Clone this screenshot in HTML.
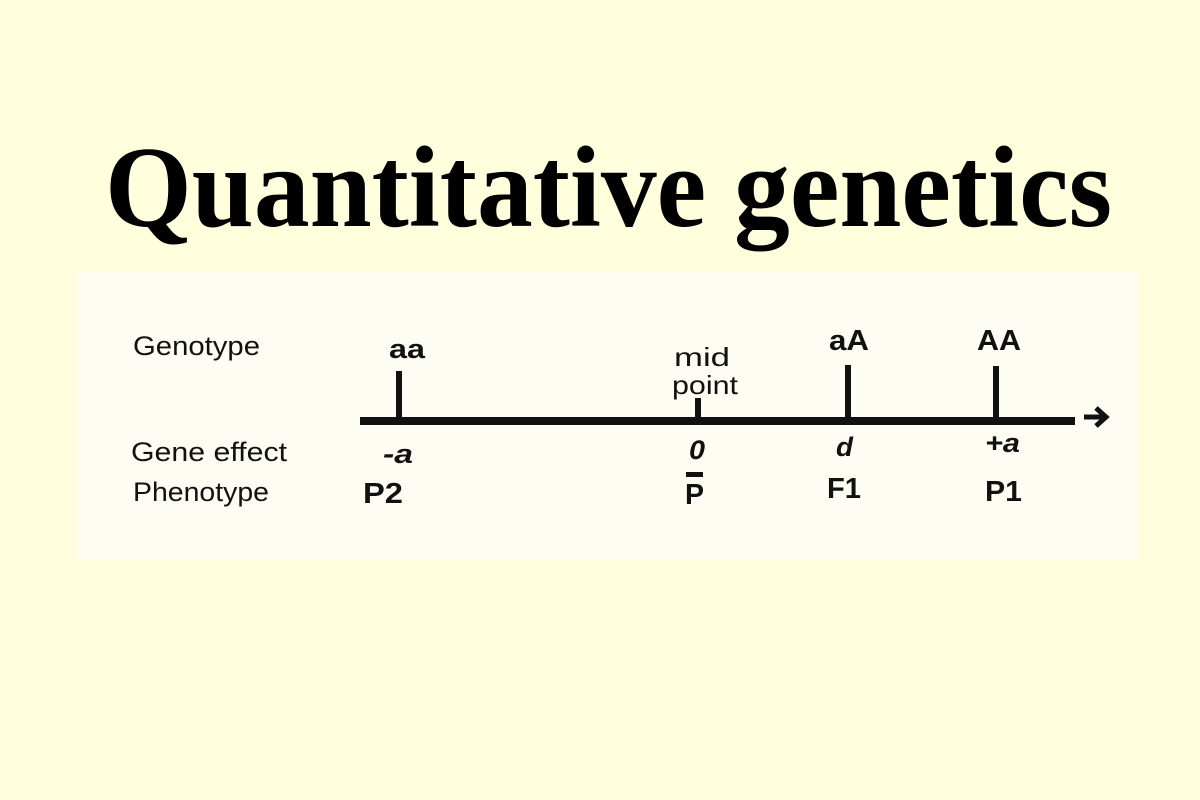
<!DOCTYPE html>
<html><head><meta charset="utf-8"><style>
html,body{margin:0;padding:0;background:#fffedd;}
svg{display:block;}
</style></head><body>
<svg width="1200" height="800" viewBox="0 0 1200 800" xmlns="http://www.w3.org/2000/svg">
<rect width="1200" height="800" fill="#fffedd"/>
<text x="105" y="226" font-family="Liberation Serif, serif" font-weight="bold" font-size="116" textLength="1007" lengthAdjust="spacingAndGlyphs" fill="#000">Quantitative genetics</text>
<rect x="78" y="272" width="1060" height="288" fill="#fdfdf3"/>
<g font-family="Liberation Sans, sans-serif" fill="#111">
<text x="133" y="355" font-size="27" textLength="127" lengthAdjust="spacingAndGlyphs">Genotype</text>
<text x="131" y="461" font-size="27" textLength="156" lengthAdjust="spacingAndGlyphs">Gene effect</text>
<text x="133" y="501" font-size="27" textLength="136" lengthAdjust="spacingAndGlyphs">Phenotype</text>
<text x="389" y="358" font-size="27" font-weight="bold" textLength="36" lengthAdjust="spacingAndGlyphs">aa</text>
<text x="674" y="366" font-size="26" textLength="56" lengthAdjust="spacingAndGlyphs">mid</text>
<text x="672" y="394" font-size="26" textLength="66" lengthAdjust="spacingAndGlyphs">point</text>
<text x="829" y="350" font-size="29" font-weight="bold" textLength="40" lengthAdjust="spacingAndGlyphs">aA</text>
<text x="977" y="350" font-size="29" font-weight="bold" textLength="44" lengthAdjust="spacingAndGlyphs">AA</text>
<text x="383" y="463" font-size="27" font-weight="bold" font-style="italic" textLength="30" lengthAdjust="spacingAndGlyphs">-a</text>
<text x="689" y="459" font-size="27" font-weight="bold" font-style="italic" textLength="16" lengthAdjust="spacingAndGlyphs">0</text>
<text x="836" y="456" font-size="27" font-weight="bold" font-style="italic" textLength="17" lengthAdjust="spacingAndGlyphs">d</text>
<text x="985" y="452" font-size="27" font-weight="bold" font-style="italic" textLength="35" lengthAdjust="spacingAndGlyphs">+a</text>
<text x="363" y="503" font-size="29" font-weight="bold" textLength="40" lengthAdjust="spacingAndGlyphs">P2</text>
<text x="685" y="504" font-size="29" font-weight="bold" textLength="19" lengthAdjust="spacingAndGlyphs">P</text>
<rect x="686" y="472" width="17" height="5" fill="#111"/>
<text x="827" y="498" font-size="29" font-weight="bold" textLength="34" lengthAdjust="spacingAndGlyphs">F1</text>
<text x="985" y="501" font-size="29" font-weight="bold" textLength="37" lengthAdjust="spacingAndGlyphs">P1</text>
</g>
<g fill="#111">
<rect x="360" y="417" width="715" height="8"/>
<rect x="396" y="371" width="6" height="50"/>
<rect x="695" y="398" width="6" height="23"/>
<rect x="845" y="365" width="6" height="56"/>
<rect x="993" y="366" width="6" height="55"/>
</g>
<path d="M1084 417 L1106 417 M1096 408 L1106 417 L1096 426" stroke="#111" stroke-width="5" fill="none"/>
</svg>
</body></html>
